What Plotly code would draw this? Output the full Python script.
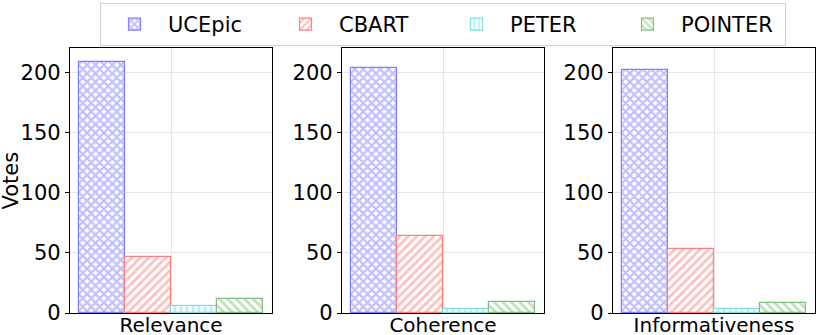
import plotly.graph_objects as go

categories = ["Relevance", "Coherence", "Informativeness"]
models = ["UCEpic", "CBART", "PETER", "POINTER"]
ucepic = [209, 204, 202]
cbart = [47, 64, 53]
peter = [6, 3, 3]
pointer = [12, 9, 8]
y_ticks = [0, 50, 100, 150, 200]

series = [ucepic, cbart, peter, pointer]
colors = ["#8080ff", "#ff8080", "#80dfdf", "#80bf80"]
shapes = ["x", "/", "|", "\\"]
solid = [0.6, 0.45, 0.45, 0.45]

W, H = 818, 335
panels_px = [(70, 272), (342, 544), (613, 815)]
ytop, ybot = 48, 313

fig = go.Figure()
font = "DejaVu Sans"
for p, cat in enumerate(categories):
    xa = "x" if p == 0 else f"x{p+1}"
    ya = "y" if p == 0 else f"y{p+1}"
    for s, name in enumerate(models):
        fig.add_trace(go.Bar(
            x=[cat], y=[series[s][p]], name=name, legendgroup=name,
            showlegend=(p == 0), xaxis=xa, yaxis=ya, offsetgroup=str(s),
            marker=dict(color="white",
                        line=dict(color=colors[s], width=1.2),
                        pattern=dict(shape=shapes[s], fgcolor=colors[s],
                                     bgcolor="white", fillmode="overlay",
                                     size=6, solidity=solid[s])),
        ))
    l, r = panels_px[p]
    xkey = "xaxis" if p == 0 else f"xaxis{p+1}"
    ykey = "yaxis" if p == 0 else f"yaxis{p+1}"
    fig.update_layout({
        xkey: dict(domain=[l / W, r / W], anchor=ya, range=[-0.546, 0.546],
                   type="category", showline=True, linecolor="black", linewidth=1.2,
                   mirror=True, ticks="", showgrid=True, gridcolor="#e6e6e6",
                   automargin=False, ticklabelstandoff=-6,
                   tickfont=dict(size=20, color="black", family=font)),
        ykey: dict(domain=[1 - ybot / H, 1 - ytop / H], anchor=xa, range=[0, 220.5],
                   tickvals=y_ticks, showline=True, linecolor="black", linewidth=1.2,
                   mirror=True, ticks="outside", ticklen=4, tickcolor="black",
                   showgrid=True, gridcolor="#e6e6e6", zeroline=False,
                   automargin=False,
                   tickfont=dict(size=21, color="black", family=font)),
    })

fig.update_layout(
    width=W, height=H, margin=dict(l=0, r=0, t=0, b=0, autoexpand=False),
    plot_bgcolor="white", paper_bgcolor="white",
    barmode="group", bargap=0, bargroupgap=0,
    font=dict(family=font, color="black"),
    legend=dict(orientation="h", x=100 / W, xanchor="left", y=1 - 3 / H, yanchor="top",
                bordercolor="#d0d0d0", borderwidth=1, bgcolor="white",
                font=dict(size=21, family=font),
                itemwidth=57, entrywidth=99, entrywidthmode="pixels",
                traceorder="normal"),
    annotations=[dict(text="Votes", x=0.0, xref="paper", xanchor="left", xshift=-3,
                      y=(1 - (ytop + ybot) / 2 / H), yref="paper", textangle=-90,
                      showarrow=False, font=dict(size=21, family=font))],
)
fig.write_html("out.html", config={"displayModeBar": False},
               post_script="document.body.style.margin='0';document.body.style.overflow='hidden';")
